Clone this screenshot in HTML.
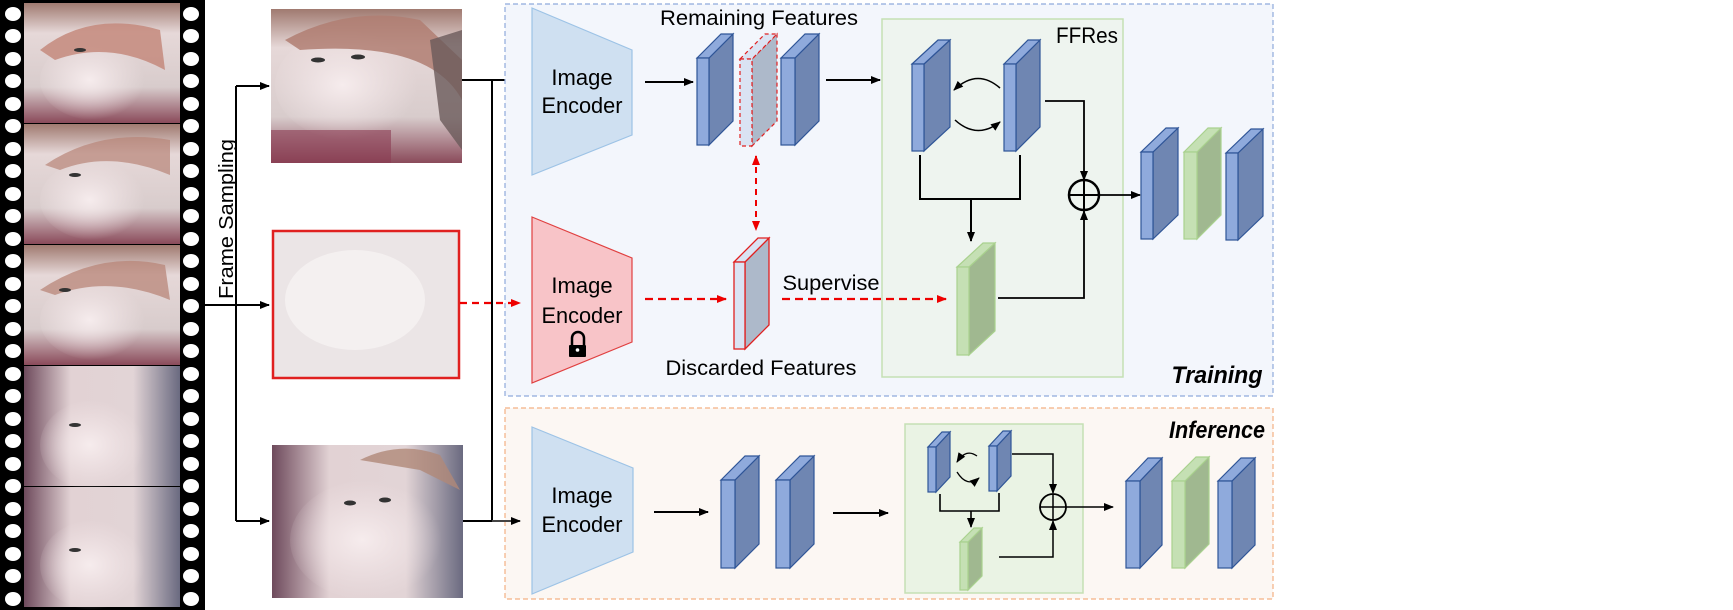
<!DOCTYPE html>
<html><head><meta charset="utf-8"><style>
html,body{margin:0;padding:0;background:#fff;}
svg{display:block;}
text{font-family:"Liberation Sans",sans-serif;fill:#000;}
</style></head><body>
<svg width="1733" height="610" viewBox="0 0 1733 610" xmlns="http://www.w3.org/2000/svg">
<defs>
<marker id="ab" markerWidth="10" markerHeight="10" refX="9" refY="5" orient="auto" markerUnits="userSpaceOnUse"><path d="M0,1 L10,5 L0,9 Z" fill="#000"/></marker>
<marker id="ar" markerWidth="10" markerHeight="10" refX="9" refY="5" orient="auto-start-reverse" markerUnits="userSpaceOnUse"><path d="M0,1 L10,5 L0,9 Z" fill="#e00"/></marker>
<linearGradient id="p1" x1="0" y1="0" x2="0" y2="1"><stop offset="0" stop-color="#a07a70"/><stop offset="0.25" stop-color="#e6d8d8"/><stop offset="0.7" stop-color="#d8cccc"/><stop offset="1" stop-color="#8a4a5a"/></linearGradient>
<linearGradient id="p2" x1="0" y1="0" x2="1" y2="0"><stop offset="0" stop-color="#6e4a5c"/><stop offset="0.3" stop-color="#e2d2d4"/><stop offset="0.7" stop-color="#e2d4d6"/><stop offset="1" stop-color="#6a6a80"/></linearGradient>
<radialGradient id="face" cx="0.45" cy="0.5" r="0.5"><stop offset="0" stop-color="#f6eced"/><stop offset="1" stop-color="#f3e6e8" stop-opacity="0"/></radialGradient>
</defs>

<!-- Filmstrip -->
<rect x="0" y="0" width="205" height="610" fill="#000"/>
<rect x="24" y="3" width="156" height="120" fill="url(#p1)"/>
<rect x="24" y="124" width="156" height="120" fill="url(#p1)"/>
<rect x="24" y="245" width="156" height="120" fill="url(#p1)"/>
<rect x="24" y="366" width="156" height="120" fill="url(#p2)"/>
<rect x="24" y="487" width="156" height="120" fill="url(#p2)"/>
<ellipse cx="95" cy="80" rx="55" ry="40" fill="url(#face)"/>
<ellipse cx="95" cy="200" rx="55" ry="40" fill="url(#face)"/>
<ellipse cx="95" cy="320" rx="55" ry="40" fill="url(#face)"/>
<ellipse cx="95" cy="445" rx="55" ry="45" fill="url(#face)"/>
<ellipse cx="95" cy="565" rx="55" ry="45" fill="url(#face)"/>
<path d="M40,50 Q90,10 160,30 L165,70 Q110,40 55,60Z" fill="#c48a7c" opacity="0.85"/>
<path d="M45,165 Q100,128 170,140 L170,175 Q110,150 60,170Z" fill="#b88578" opacity="0.7"/>
<path d="M40,290 Q100,250 165,265 L170,300 Q110,275 55,295Z" fill="#b88578" opacity="0.75"/>
<g fill="#333"><ellipse cx="80" cy="50" rx="6" ry="2"/><ellipse cx="75" cy="175" rx="6" ry="2"/><ellipse cx="65" cy="290" rx="6" ry="2"/><ellipse cx="75" cy="425" rx="6" ry="2"/><ellipse cx="75" cy="550" rx="6" ry="2"/></g>
<g fill="#fff">
<ellipse cx="13" cy="14" rx="8" ry="7"/><ellipse cx="13" cy="36" rx="8" ry="7"/><ellipse cx="13" cy="59" rx="8" ry="7"/><ellipse cx="13" cy="81" rx="8" ry="7"/><ellipse cx="13" cy="104" rx="8" ry="7"/><ellipse cx="13" cy="126" rx="8" ry="7"/><ellipse cx="13" cy="149" rx="8" ry="7"/><ellipse cx="13" cy="171" rx="8" ry="7"/><ellipse cx="13" cy="194" rx="8" ry="7"/><ellipse cx="13" cy="216" rx="8" ry="7"/><ellipse cx="13" cy="239" rx="8" ry="7"/><ellipse cx="13" cy="261" rx="8" ry="7"/><ellipse cx="13" cy="284" rx="8" ry="7"/><ellipse cx="13" cy="306" rx="8" ry="7"/><ellipse cx="13" cy="329" rx="8" ry="7"/><ellipse cx="13" cy="351" rx="8" ry="7"/><ellipse cx="13" cy="374" rx="8" ry="7"/><ellipse cx="13" cy="396" rx="8" ry="7"/><ellipse cx="13" cy="419" rx="8" ry="7"/><ellipse cx="13" cy="441" rx="8" ry="7"/><ellipse cx="13" cy="464" rx="8" ry="7"/><ellipse cx="13" cy="486" rx="8" ry="7"/><ellipse cx="13" cy="509" rx="8" ry="7"/><ellipse cx="13" cy="531" rx="8" ry="7"/><ellipse cx="13" cy="554" rx="8" ry="7"/><ellipse cx="13" cy="576" rx="8" ry="7"/><ellipse cx="13" cy="599" rx="8" ry="7"/>
<ellipse cx="191" cy="14" rx="8" ry="7"/><ellipse cx="191" cy="36" rx="8" ry="7"/><ellipse cx="191" cy="59" rx="8" ry="7"/><ellipse cx="191" cy="81" rx="8" ry="7"/><ellipse cx="191" cy="104" rx="8" ry="7"/><ellipse cx="191" cy="126" rx="8" ry="7"/><ellipse cx="191" cy="149" rx="8" ry="7"/><ellipse cx="191" cy="171" rx="8" ry="7"/><ellipse cx="191" cy="194" rx="8" ry="7"/><ellipse cx="191" cy="216" rx="8" ry="7"/><ellipse cx="191" cy="239" rx="8" ry="7"/><ellipse cx="191" cy="261" rx="8" ry="7"/><ellipse cx="191" cy="284" rx="8" ry="7"/><ellipse cx="191" cy="306" rx="8" ry="7"/><ellipse cx="191" cy="329" rx="8" ry="7"/><ellipse cx="191" cy="351" rx="8" ry="7"/><ellipse cx="191" cy="374" rx="8" ry="7"/><ellipse cx="191" cy="396" rx="8" ry="7"/><ellipse cx="191" cy="419" rx="8" ry="7"/><ellipse cx="191" cy="441" rx="8" ry="7"/><ellipse cx="191" cy="464" rx="8" ry="7"/><ellipse cx="191" cy="486" rx="8" ry="7"/><ellipse cx="191" cy="509" rx="8" ry="7"/><ellipse cx="191" cy="531" rx="8" ry="7"/><ellipse cx="191" cy="554" rx="8" ry="7"/><ellipse cx="191" cy="576" rx="8" ry="7"/><ellipse cx="191" cy="599" rx="8" ry="7"/>
</g>

<!-- Frame sampling -->
<text transform="translate(233,219) rotate(-90)" font-size="20" text-anchor="middle" textLength="160" lengthAdjust="spacingAndGlyphs">Frame Sampling</text>
<path d="M203,305 H236 M236,86 V521" stroke="#000" stroke-width="2" fill="none"/>
<line x1="236" y1="86" x2="269" y2="86" stroke="#000" stroke-width="2" marker-end="url(#ab)"/>
<line x1="236" y1="305" x2="269" y2="305" stroke="#000" stroke-width="2" marker-end="url(#ab)"/>
<line x1="236" y1="521" x2="269" y2="521" stroke="#000" stroke-width="2" marker-end="url(#ab)"/>

<!-- photos -->
<rect x="271" y="9" width="191" height="154" fill="url(#p1)"/>
<ellipse cx="350" cy="85" rx="75" ry="55" fill="url(#face)"/>
<path d="M285,40 Q350,5 420,20 L462,60 L462,100 Q430,40 300,50Z" fill="#b07e72" opacity="0.85"/>
<path d="M430,40 L462,30 L462,150 L440,120Z" fill="#6a5a5a" opacity="0.8"/>
<g fill="#333"><ellipse cx="318" cy="60" rx="7" ry="2.5"/><ellipse cx="358" cy="57" rx="7" ry="2.5"/></g>
<rect x="271" y="130" width="120" height="33" fill="#8a3a52" opacity="0.6"/>
<rect x="272" y="445" width="191" height="153" fill="url(#p2)"/>
<ellipse cx="370" cy="540" rx="80" ry="60" fill="url(#face)"/>
<path d="M360,460 Q400,440 440,455 L460,490 L420,470Z" fill="#b08878" opacity="0.8"/>
<g fill="#333"><ellipse cx="350" cy="503" rx="6" ry="2.5"/><ellipse cx="385" cy="500" rx="6" ry="2.5"/></g>
<rect x="273" y="231" width="186" height="147" fill="#ebe5e6" stroke="#e02020" stroke-width="2.5"/>
<ellipse cx="355" cy="300" rx="70" ry="50" fill="#f4f0f0"/>

<!-- connections to boxes -->
<path d="M462,80 H520 M492,80 V521 M463,521 H520" stroke="#000" stroke-width="2" fill="none"/>
<line x1="500" y1="80" x2="520" y2="80" stroke="#000" stroke-width="2" marker-end="url(#ab)"/>
<line x1="500" y1="521" x2="520" y2="521" stroke="#444" stroke-width="2" marker-end="url(#ab)"/>

<!-- Training box -->
<rect x="505" y="4" width="768" height="392" fill="#f3f6fc" stroke="#8faadc" stroke-width="1.2" stroke-dasharray="5,3"/>
<line x1="460" y1="303" x2="520" y2="303" stroke="#e00" stroke-width="2.2" stroke-dasharray="7,5" marker-end="url(#ar)"/>
<line x1="492" y1="290" x2="492" y2="316" stroke="#000" stroke-width="2"/>

<rect x="882" y="19" width="241" height="358" fill="#eef4ef" stroke="#c5e0b4" stroke-width="1.5"/>

<!-- encoders -->
<polygon points="532,8 632,50 632,135 532,175" fill="#cfe0f1" stroke="#9dc3e6" stroke-width="1.2"/>
<text x="582" y="85" font-size="22" text-anchor="middle">Image</text>
<text x="582" y="113" font-size="22" text-anchor="middle" textLength="81" lengthAdjust="spacingAndGlyphs">Encoder</text>
<polygon points="532,217 632,258 632,342 532,383" fill="#f8c4c8" stroke="#e04040" stroke-width="1.2"/>
<text x="582" y="293" font-size="22" text-anchor="middle">Image</text>
<text x="582" y="323" font-size="22" text-anchor="middle" textLength="81" lengthAdjust="spacingAndGlyphs">Encoder</text>
<path d="M572,345 V338 A6,6 0 0 1 584,338 V345" fill="none" stroke="#000" stroke-width="2.5"/>
<rect x="569" y="345" width="17" height="12" rx="1" fill="#000"/>
<circle cx="577.5" cy="350" r="1.8" fill="#fff"/>

<text x="759" y="25" font-size="21" text-anchor="middle" textLength="198" lengthAdjust="spacingAndGlyphs">Remaining Features</text>
<text x="761" y="375" font-size="21" text-anchor="middle" textLength="191" lengthAdjust="spacingAndGlyphs">Discarded Features</text>
<text x="831" y="290" font-size="21" text-anchor="middle" textLength="97" lengthAdjust="spacingAndGlyphs">Supervise</text>
<text x="1087" y="43" font-size="22" text-anchor="middle" textLength="62" lengthAdjust="spacingAndGlyphs">FFRes</text>
<text x="1217" y="383" font-size="24" font-weight="bold" font-style="italic" text-anchor="middle" textLength="91" lengthAdjust="spacingAndGlyphs">Training</text>

<!-- arrows training -->
<line x1="645" y1="82" x2="693" y2="82" stroke="#000" stroke-width="2" marker-end="url(#ab)"/>
<line x1="826" y1="80" x2="880" y2="80" stroke="#000" stroke-width="2" marker-end="url(#ab)"/>
<line x1="756" y1="156" x2="756" y2="230" stroke="#e00" stroke-width="2" stroke-dasharray="6,5" marker-start="url(#ar)" marker-end="url(#ar)"/>
<line x1="645" y1="299" x2="726" y2="299" stroke="#e00" stroke-width="2.2" stroke-dasharray="8,5" marker-end="url(#ar)"/>
<line x1="782" y1="299" x2="946" y2="299" stroke="#e00" stroke-width="2.2" stroke-dasharray="8,5" marker-end="url(#ar)"/>

<g stroke="#2f5597" stroke-width="1.2">
<polygon points="709,58 733,34 733,121 709,145" fill="#6f86b2"/><polygon points="697,58 721,34 733,34 709,58" fill="#8faadc"/><rect x="697" y="58" width="12" height="87" fill="#8faadc"/>
<polygon points="795,58 819,34 819,121 795,145" fill="#6f86b2"/><polygon points="781,58 805,34 819,34 795,58" fill="#8faadc"/><rect x="781" y="58" width="14" height="87" fill="#8faadc"/>
<polygon points="924,64 950,40 950,127 924,151" fill="#6f86b2"/><polygon points="912,64 938,40 950,40 924,64" fill="#8faadc"/><rect x="912" y="64" width="12" height="87" fill="#8faadc"/>
<polygon points="1016,64 1040,40 1040,127 1016,151" fill="#6f86b2"/><polygon points="1004,64 1028,40 1040,40 1016,64" fill="#8faadc"/><rect x="1004" y="64" width="12" height="87" fill="#8faadc"/>
<polygon points="1153,152 1178,128 1178,215 1153,239" fill="#6f86b2"/><polygon points="1141,152 1166,128 1178,128 1153,152" fill="#8faadc"/><rect x="1141" y="152" width="12" height="87" fill="#8faadc"/>
<polygon points="1238,153 1263,129 1263,216 1238,240" fill="#6f86b2"/><polygon points="1226,153 1251,129 1263,129 1238,153" fill="#8faadc"/><rect x="1226" y="153" width="12" height="87" fill="#8faadc"/>
</g>
<g stroke="#a9d18e" stroke-width="1.2">
<polygon points="969,267 995,243 995,331 969,355" fill="#a0b890"/><polygon points="957,267 983,243 995,243 969,267" fill="#c5e0b4"/><rect x="957" y="267" width="12" height="88" fill="#c5e0b4"/>
<polygon points="1197,152 1221,128 1221,215 1197,239" fill="#a0b890"/><polygon points="1184,152 1208,128 1221,128 1197,152" fill="#c5e0b4"/><rect x="1184" y="152" width="13" height="87" fill="#c5e0b4"/>
</g>
<g stroke="#e02020" stroke-width="1.2" stroke-dasharray="4,3">
<polygon points="752,59 777,34 777,121 752,146" fill="#adb9ca"/><polygon points="740,59 765,34 777,34 752,59" fill="#dae3f3"/><rect x="740" y="59" width="12" height="87" fill="#dae3f3"/>
</g>
<g stroke="#e02020" stroke-width="1.3">
<polygon points="745,262 769,238 769,325 745,349" fill="#adb9ca"/><polygon points="734,262 758,238 769,238 745,262" fill="#dae3f3"/><rect x="734" y="262" width="11" height="87" fill="#dae3f3"/>
</g>

<!-- FFRes connections -->
<path d="M1000,88 Q977,68 954,90" fill="none" stroke="#000" stroke-width="1.5" marker-end="url(#ab)"/>
<path d="M955,120 Q977,140 1000,122" fill="none" stroke="#000" stroke-width="1.5" marker-end="url(#ab)"/>
<path d="M920,155 V199 H1020 V155" fill="none" stroke="#000" stroke-width="2"/>
<line x1="971" y1="199" x2="971" y2="241" stroke="#000" stroke-width="2" marker-end="url(#ab)"/>
<path d="M1045,101 H1084 V180" fill="none" stroke="#000" stroke-width="1.8" marker-end="url(#ab)"/>
<path d="M998,298 H1084 V211" fill="none" stroke="#000" stroke-width="1.8" marker-end="url(#ab)"/>
<circle cx="1084" cy="195" r="15" fill="none" stroke="#000" stroke-width="2.5"/>
<path d="M1069,195 H1099 M1084,180 V210" stroke="#000" stroke-width="2"/>
<line x1="1099" y1="195" x2="1140" y2="195" stroke="#000" stroke-width="1.8" marker-end="url(#ab)"/>

<!-- Inference box -->
<rect x="505" y="408" width="768" height="191" fill="#fcf7f3" stroke="#f4b183" stroke-width="1.2" stroke-dasharray="5,3"/>
<line x1="492" y1="521" x2="520" y2="521" stroke="#444" stroke-width="2" marker-end="url(#ab)"/>
<rect x="905" y="424" width="178" height="169" fill="#eaf3e4" stroke="#c5e0b4" stroke-width="1.5"/>
<polygon points="532,427 633,468 633,552 532,594" fill="#cfe0f1" stroke="#9dc3e6" stroke-width="1.2"/>
<text x="582" y="503" font-size="22" text-anchor="middle">Image</text>
<text x="582" y="532" font-size="22" text-anchor="middle" textLength="81" lengthAdjust="spacingAndGlyphs">Encoder</text>
<text x="1265" y="438" font-size="24" font-weight="bold" font-style="italic" text-anchor="end" textLength="96" lengthAdjust="spacingAndGlyphs">Inference</text>
<line x1="654" y1="512" x2="708" y2="512" stroke="#000" stroke-width="2" marker-end="url(#ab)"/>
<line x1="833" y1="513" x2="888" y2="513" stroke="#000" stroke-width="2" marker-end="url(#ab)"/>

<g stroke="#2f5597" stroke-width="1.2">
<polygon points="936,447 950,432 950,477 936,492" fill="#6f86b2"/><polygon points="928,447 942,432 950,432 936,447" fill="#8faadc"/><rect x="928" y="447" width="8" height="45" fill="#8faadc"/>
<polygon points="997,446 1011,431 1011,476 997,491" fill="#6f86b2"/><polygon points="989,446 1003,431 1011,431 997,446" fill="#8faadc"/><rect x="989" y="446" width="8" height="45" fill="#8faadc"/>
<polygon points="735,480 759,456 759,544 735,568" fill="#6f86b2"/><polygon points="721,480 745,456 759,456 735,480" fill="#8faadc"/><rect x="721" y="480" width="14" height="88" fill="#8faadc"/>
<polygon points="790,480 814,456 814,544 790,568" fill="#6f86b2"/><polygon points="776,480 800,456 814,456 790,480" fill="#8faadc"/><rect x="776" y="480" width="14" height="88" fill="#8faadc"/>
<polygon points="1140,481 1162,458 1162,545 1140,568" fill="#6f86b2"/><polygon points="1126,481 1148,458 1162,458 1140,481" fill="#8faadc"/><rect x="1126" y="481" width="14" height="87" fill="#8faadc"/>
<polygon points="1232,481 1255,458 1255,545 1232,568" fill="#6f86b2"/><polygon points="1218,481 1241,458 1255,458 1232,481" fill="#8faadc"/><rect x="1218" y="481" width="14" height="87" fill="#8faadc"/>
</g>
<g stroke="#a9d18e" stroke-width="1.2">
<polygon points="968,542 982,528 982,576 968,590" fill="#a0b890"/><polygon points="960,542 974,528 982,528 968,542" fill="#c5e0b4"/><rect x="960" y="542" width="8" height="48" fill="#c5e0b4"/>
<polygon points="1185,481 1209,457 1209,544 1185,568" fill="#a0b890"/><polygon points="1172,481 1196,457 1209,457 1185,481" fill="#c5e0b4"/><rect x="1172" y="481" width="13" height="87" fill="#c5e0b4"/>
</g>
<path d="M977,456 Q966,448 957,462" fill="none" stroke="#000" stroke-width="1.3" marker-end="url(#ab)"/>
<path d="M957,472 Q967,488 979,478" fill="none" stroke="#000" stroke-width="1.3" marker-end="url(#ab)"/>
<path d="M940,494 V511 H999 V493" fill="none" stroke="#000" stroke-width="1.6"/>
<line x1="971" y1="511" x2="971" y2="527" stroke="#000" stroke-width="1.6" marker-end="url(#ab)"/>
<path d="M1012,454 H1053 V493" fill="none" stroke="#000" stroke-width="1.5" marker-end="url(#ab)"/>
<path d="M999,557 H1053 V521" fill="none" stroke="#000" stroke-width="1.5" marker-end="url(#ab)"/>
<circle cx="1053" cy="507" r="13" fill="none" stroke="#000" stroke-width="1.8"/>
<path d="M1040,507 H1066 M1053,494 V520" stroke="#000" stroke-width="1.5"/>
<line x1="1066" y1="507" x2="1113" y2="507" stroke="#000" stroke-width="1.5" marker-end="url(#ab)"/>
</svg>
</body></html>
